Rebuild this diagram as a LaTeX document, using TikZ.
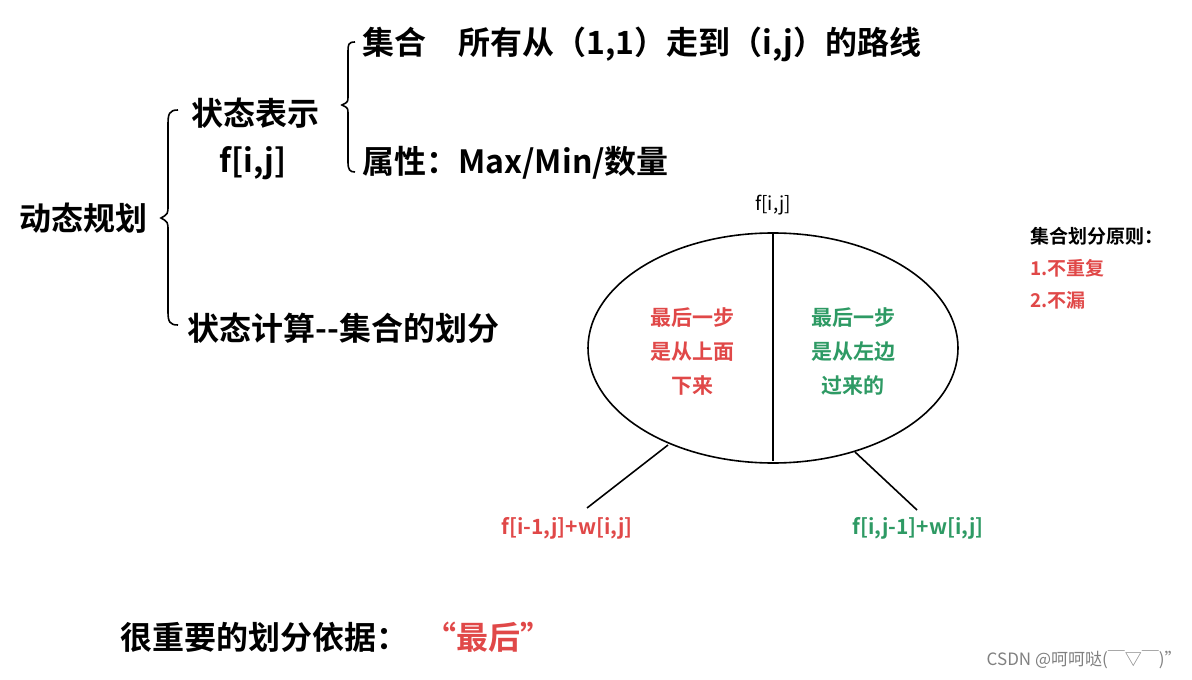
\documentclass[tikz,border=0pt]{standalone}
\usepackage{fontspec}
\usetikzlibrary{shapes.geometric}
\setmainfont{Noto Sans CJK SC}[BoldFont={Noto Sans CJK SC Bold}]
\definecolor{myred}{HTML}{E04848}
\definecolor{mygreen}{HTML}{2E9A64}
\begin{document}
\begin{tikzpicture}[x=0.5pt,y=-0.5pt,
  big/.style={font=\fontsize{16}{18}\selectfont\bfseries, inner sep=0pt},
  mid/.style={font=\fontsize{10.5}{13}\selectfont\bfseries, inner sep=0pt},
  sm/.style={font=\fontsize{9.5}{12}\selectfont\bfseries, inner sep=0pt},
  ln/.style={line width=0.8pt}]
\useasboundingbox (0,0) rectangle (1192,679);
\node[big] (dp) at (83,218) {动态规划};
\draw[ln] (178,110) .. controls (169,110) and (168,114) .. (168,125) -- (168,205) .. controls (168,214) .. (161,218) .. controls (168,222) .. (168,231) -- (168,312) .. controls (168,322) and (170,325) .. (178,325);
\node[big] (zt) at (255,113) {状态表示};
\node[big] (fij) at (253,163) {f[i,j]};
\draw[ln] (355,42) .. controls (348,42) and (348,45) .. (348,52) -- (348,96) .. controls (348,102) .. (342,105) .. controls (348,108) .. (348,114) -- (348,162) .. controls (348,170) and (350,172) .. (355,172);
\node[big,anchor=west] (jh) at (362,44) {集合\quad 所有从（1,1）走到（i,j）的路线};
\node[big,anchor=west] (sx) at (362,163) {属性：Max/Min/数量};
\node[big,anchor=west] (js) at (187,328) {状态计算{-}{-}集合的划分};
\node[font=\fontsize{9.5}{12}\selectfont, inner sep=0pt] (top) at (773,205) {f[i,j]};
\node[draw,ln,ellipse,minimum width=185pt,minimum height=115pt,inner sep=0pt] (el) at (773,348) {};
\draw[ln] (773,233) -- (773,461);
\node[mid,text=myred,align=center,font=\fontsize{10.5}{17}\selectfont\bfseries] (l) at (692,352) {最后一步\\是从上面\\下来};
\node[mid,text=mygreen,align=center,font=\fontsize{10.5}{17}\selectfont\bfseries] (r) at (853,352) {最后一步\\是从左边\\过来的};
\coordinate (a1) at (668,445); \coordinate (a2) at (587,508);
\coordinate (b1) at (855,452); \coordinate (b2) at (917,510);
\draw[ln] (a1) -- (a2); \draw[ln] (b1) -- (b2);
\node[mid,text=myred] (fl) at (567,528) {f[i-1,j]+w[i,j]};
\node[mid,text=mygreen] (fr) at (918,528) {f[i,j-1]+w[i,j]};
\node[sm,anchor=west] (p0) at (1030,236) {集合划分原则：};
\node[sm,anchor=west,text=myred] (p1) at (1030,268) {1.不重复};
\node[sm,anchor=west,text=myred] (p2) at (1030,300) {2.不漏};
\node[big,anchor=west] (bt) at (120,637) {很重要的划分依据：};
\node[big,anchor=west,text=myred] (zh) at (424,637) {“最后”};
\node[font=\fontsize{8.5}{10}\selectfont,text=gray,anchor=east,inner sep=0pt] (wm) at (1182,660) {CSDN @呵呵哒(￣▽￣)"};
\end{tikzpicture}
\end{document}
